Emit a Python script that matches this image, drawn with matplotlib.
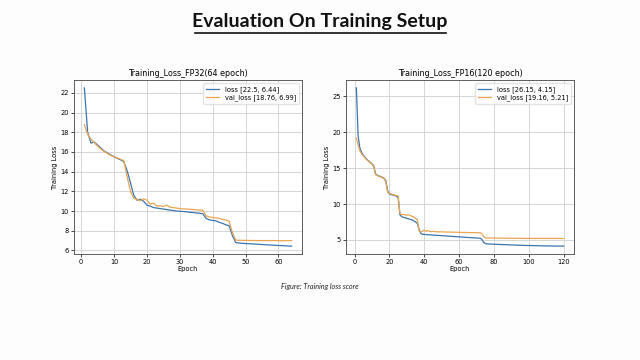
import numpy as np
import matplotlib
matplotlib.use('Agg')
import matplotlib.pyplot as plt
from matplotlib.lines import Line2D

# *****************************************************************************

FP32_LOSS = [22.5, 18.0, 16.9, 17.0, 16.7, 16.4, 16.1, 15.9, 15.7, 15.5,
             15.35, 15.2, 15.0, 14.1, 12.9, 11.6, 11.1, 11.2, 11.0, 10.6,
             10.5, 10.35, 10.3, 10.25, 10.2, 10.15, 10.1, 10.05, 10.0, 9.98,
             9.95, 9.92, 9.88, 9.85, 9.8, 9.78, 9.72, 9.25, 9.1, 9.05,
             9.0, 8.85, 8.75, 8.6, 8.5, 7.5, 6.8, 6.75, 6.72, 6.7,
             6.68, 6.66, 6.64, 6.62, 6.6, 6.58, 6.56, 6.54, 6.52, 6.5,
             6.49, 6.47, 6.45, 6.44]

FP32_VAL = [18.76, 17.8, 17.3, 16.95, 16.6, 16.3, 16.05, 15.85, 15.65, 15.5,
            15.4, 15.25, 15.1, 13.5, 12.0, 11.3, 11.2, 11.05, 11.25, 11.1,
            10.7, 10.8, 10.5, 10.55, 10.45, 10.6, 10.4, 10.35, 10.3, 10.25,
            10.22, 10.2, 10.18, 10.15, 10.12, 10.1, 10.08, 9.5, 9.4, 9.35,
            9.3, 9.25, 9.15, 9.1, 8.95, 7.8, 7.05, 7.03, 7.02, 7.02,
            7.01, 7.01, 7.0, 7.0, 7.0, 7.0, 7.0, 7.0, 7.0, 6.99,
            6.99, 6.99, 6.99, 6.99]

FP16_LOSS = [26.15, 19.5, 17.8, 17.2, 16.8, 16.5, 16.2, 16.0, 15.8, 15.6,
             15.3, 14.2, 14.0, 13.9, 13.8, 13.7, 13.55, 13.2, 11.8, 11.4,
             11.3, 11.25, 11.2, 11.1, 10.9, 8.5, 8.25, 8.15, 8.1, 8.0,
             7.95, 7.85, 7.8, 7.65, 7.5, 7.3, 6.5, 5.9, 5.8, 5.78,
             5.75, 5.73, 5.72, 5.7, 5.68, 5.67, 5.65, 5.63, 5.62, 5.6,
             5.58, 5.57, 5.55, 5.53, 5.52, 5.5, 5.48, 5.47, 5.45, 5.43,
             5.42, 5.4, 5.38, 5.37, 5.35, 5.33, 5.32, 5.3, 5.29, 5.28,
             5.26, 5.25, 5.1, 4.7, 4.5, 4.45, 4.44, 4.43, 4.42, 4.41,
             4.4, 4.39, 4.38, 4.37, 4.36, 4.35, 4.34, 4.33, 4.32, 4.31,
             4.3, 4.29, 4.28, 4.28, 4.27, 4.26, 4.25, 4.25, 4.24, 4.23,
             4.23, 4.22, 4.21, 4.21, 4.2, 4.2, 4.19, 4.19, 4.18, 4.18,
             4.17, 4.17, 4.17, 4.16, 4.16, 4.16, 4.15, 4.15, 4.15, 4.15]

FP16_VAL = [19.16, 18.2, 17.4, 17.0, 16.7, 16.4, 16.15, 15.95, 15.75, 15.55,
            15.2, 14.1, 13.95, 13.85, 13.75, 13.65, 13.5, 13.0, 11.6, 11.5,
            11.4, 11.3, 11.25, 11.2, 11.1, 8.7, 8.5, 8.55, 8.5, 8.45,
            8.5, 8.4, 8.3, 8.2, 8.0, 7.8, 6.3, 6.1, 6.25, 6.35,
            6.2, 6.3, 6.2, 6.15, 6.2, 6.15, 6.15, 6.14, 6.13, 6.13,
            6.12, 6.12, 6.11, 6.1, 6.1, 6.09, 6.08, 6.08, 6.07, 6.06,
            6.06, 6.05, 6.05, 6.04, 6.03, 6.03, 6.02, 6.02, 6.01, 6.01,
            6.0, 6.0, 5.9, 5.5, 5.3, 5.28, 5.28, 5.27, 5.27, 5.27,
            5.26, 5.26, 5.26, 5.25, 5.25, 5.25, 5.25, 5.24, 5.24, 5.24,
            5.24, 5.23, 5.23, 5.23, 5.23, 5.23, 5.22, 5.22, 5.22, 5.22,
            5.22, 5.22, 5.22, 5.21, 5.21, 5.21, 5.21, 5.21, 5.21, 5.21,
            5.21, 5.21, 5.21, 5.21, 5.21, 5.21, 5.21, 5.21, 5.21, 5.21]

PANELS = [
    ('Training_Loss_FP32(64 epoch)', FP32_LOSS, FP32_VAL,
     'loss [22.5, 6.44]', 'val_loss [18.76, 6.99]'),
    ('Training_Loss_FP16(120 epoch)', FP16_LOSS, FP16_VAL,
     'loss [26.15, 4.15]', 'val_loss [19.16, 5.21]'),
]

# *****************************************************************************


def make_fig():

    fig01 = plt.figure(figsize=(6.4, 3.6), dpi=100)
    fig01.patch.set_facecolor('#fdfdfd')

    # Slide title with underline
    fig01.text(0.5, 1-21/360, 'Evaluation On Training Setup', ha='center',
               va='center', fontsize=14, fontweight='bold', family='Lato',
               color='#111111')
    fig01.add_artist(Line2D([195/640, 446/640], [1-33/360, 1-33/360],
                            color='#111111', lw=1.2))

    boxes = [[74/640, 106/360, 228/640, 174/360],
             [346/640, 106/360, 228/640, 174/360]]

    for k1, (title, loss, val, lab1, lab2) in enumerate(PANELS):
        axs01 = fig01.add_axes(boxes[k1])
        epochs = np.arange(1, len(loss)+1)
        axs01.plot(epochs, loss, color='#3b75af', lw=0.9, label=lab1)
        axs01.plot(epochs, val, color='#e9a452', lw=0.9, label=lab2)
        axs01.set_title(title, fontsize=5.8, pad=3)
        axs01.set_xlabel('Epoch', fontsize=4.8, labelpad=1)
        axs01.set_ylabel('Training Loss', fontsize=4.8, labelpad=2)
        axs01.tick_params(labelsize=4.8, length=2, width=0.5, pad=1.5)
        axs01.grid(True, color='#d0d0d0', lw=0.6)
        axs01.set_axisbelow(True)
        for sp in axs01.spines.values():
            sp.set_linewidth(0.6)
            sp.set_color('#444444')
        axs01.legend(loc='upper right', fontsize=4.8, frameon=True,
                     handlelength=2.0, borderpad=0.4, labelspacing=0.3,
                     fancybox=True, framealpha=0.8, edgecolor='#dddddd')

    fig01.text(0.5, 1-287/360, 'Figure: Training loss score', ha='center',
               va='center', fontsize=5.2, style='italic', family='Lato',
               color='#222222')

    plt.savefig('out.png', dpi=100, facecolor=fig01.get_facecolor())
    plt.close()

    return None

# *****************************************************************************


if (__name__ == "__main__"):

    make_fig()

# *****************************************************************************
